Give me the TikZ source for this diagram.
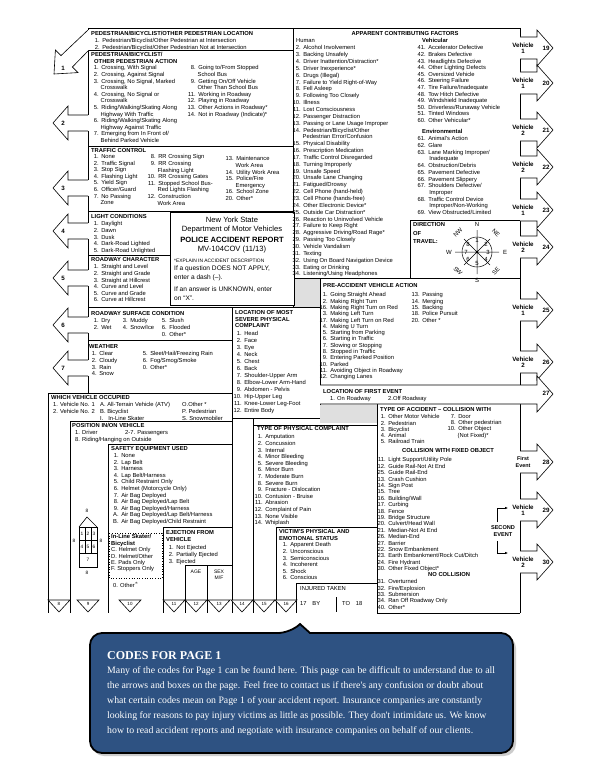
\documentclass[tikz,border=0pt]{standalone}
\usepackage{fontspec}
\setmainfont{Liberation Sans}
\newfontfamily\serf{Liberation Serif}
\usetikzlibrary{arrows.meta}
\definecolor{cblue}{HTML}{2E5282}
\newcommand\nn[1]{\makebox[7.5pt][r]{#1.}\,}
\newcommand\ct{\hspace*{9.5pt}}
\newcommand\fsz[1]{\fontsize{5.8}{#1}\selectfont}
\tikzset{
 t/.style={anchor=north west,inner sep=0pt,align=left,yshift=2.6pt,font=\fsz{6.6}},
 hb/.style={t,font=\fsz{6.4}\bfseries},
 ln/.style={line width=0.6pt},
 arr/.style={line width=0.6pt,fill=white},
 vl/.style={inner sep=0pt,font=\fontsize{6.2}{6.4}\selectfont\bfseries,align=center},
}
\newcommand\larr[2]{%
 \path[arr,draw] (88,#1-8) -- (68,#1-8) -- (68,#1-17) -- (53,#1) -- (68,#1+17) -- (68,#1+8) -- (88,#1+8);
 \node[vl] at (63,#1) {#2};}
\newcommand\rarr[4]{%
 \path[arr,draw] (520,#1-11) -- (537,#1-11) -- (537,#1-18) -- (553,#1) -- (537,#1+18) -- (537,#1+11) -- (520,#1+11);
 \node[vl] at (523,#1) {#2\\#3};
 \node[vl] at (546,#1) {#4};}
\newcommand\tri[2]{%
 \draw[ln,fill=white] (#1-11,600) -- (#1+11,600) -- (#1,612) -- cycle;
 \node[inner sep=0pt,font=\fontsize{4.5}{5}\selectfont] at (#1,604) {#2};}
\begin{document}
\begin{tikzpicture}[x=1pt,y=-1pt]
\useasboundingbox (0,0) rectangle (600,768);
\fill[white] (0,0) rectangle (600,768);
% ---------- frame lines
\draw[ln] (88,28) -- (520,28);
\draw[ln] (293,28) -- (293,307);
\draw[ln] (88,50) -- (293,50);
\draw[ln] (88,146) -- (293,146);
\draw[ln] (88,211) -- (293,211);
\draw[ln] (88,255) -- (170,255);
\draw[ln] (88,307) -- (320,307);
\draw[ln] (88,340) -- (232,340);
\draw[ln] (293,278) -- (520,278);
\draw[ln] (410,220) -- (520,220);
\draw[ln] (410,220) -- (410,278);
\draw[ln] (320,278) -- (320,423);
\draw[ln] (232,307) -- (232,613);
\draw[ln] (232,418) -- (320,418);
\fill[gray!25] (294,279) rectangle (320,307);
\fill[gray!25] (320.3,405.3) rectangle (377,423);
\draw[ln] (377,404) -- (377,613) -- (520,613);
\draw[ln] (253,418) -- (253,613);
\draw[ln] (253,425) -- (377,425);
\draw[ln] (276,527) -- (377,527);
\draw[ln] (276,527) -- (276,613);
\draw[ln] (296,583) -- (377,583);
\draw[ln] (296,583) -- (296,613);
\draw[ln] (336,597) -- (336,612);
\draw[ln] (48,393) -- (232,393);
\draw[ln] (48,393) -- (48,613);
\draw[ln] (70,421) -- (232,421);
\draw[ln] (70,421) -- (70,613);
\draw[ln] (108,444) -- (232,444);
\draw[ln] (108,444) -- (108,613);
\draw[ln] (163,527) -- (232,527);
\draw[ln] (163,527) -- (163,613);
\draw[ln] (185,565) -- (232,565);
\draw[ln] (185,565) -- (185,613);
\draw[ln] (207,565) -- (207,613);
% left edge segments
\draw[ln] (88,28) -- (88,30);
\draw[ln] (88,51) -- (88,115);
\draw[ln] (88,131) -- (88,180);
\draw[ln] (88,196) -- (88,223);
\draw[ln] (88,239) -- (88,270);
\draw[ln] (88,286) -- (88,317);
\draw[ln] (88,333) -- (88,360);
\draw[ln] (88,376) -- (88,393);
% right edge segments
\draw[ln] (520,28) -- (520,37);
\draw[ln] (520,59) -- (520,72);
\draw[ln] (520,94) -- (520,119);
\draw[ln] (520,141) -- (520,156);
\draw[ln] (520,178) -- (520,199);
\draw[ln] (520,221) -- (520,236);
\draw[ln] (520,258) -- (520,299);
\draw[ln] (520,321) -- (520,351);
\draw[ln] (520,373) -- (520,385);
\draw[ln] (520,404) -- (520,451);
\draw[ln] (520,473) -- (520,499);
\draw[ln] (520,521) -- (520,551);
\draw[ln] (520,573) -- (520,613);
% ---------- left arrows
\path[arr,draw] (88,30) -- (61,55.6) -- (55.4,50) -- (54,74) -- (78,72.6) -- (72.4,67) -- (88,51);
\node[vl] at (63,68) {1};
\larr{123}{2}\larr{188}{3}\larr{231}{4}\larr{278}{5}\larr{325}{6}\larr{368}{7}
% ---------- right arrows
\rarr{48}{Vehicle}{1}{19}
\rarr{83}{Vehicle}{1}{20}
\rarr{130}{Vehicle}{2}{21}
\rarr{167}{Vehicle}{2}{22}
\rarr{210}{Vehicle}{1}{23}
\rarr{247}{Vehicle}{2}{24}
\rarr{310}{Vehicle}{1}{25}
\rarr{362}{Vehicle}{2}{26}
\rarr{462}{\fontsize{5.4}{6}\selectfont First}{\fontsize{5.4}{6}\selectfont Event}{28}
\rarr{510}{Vehicle}{1}{29}
\rarr{562}{Vehicle}{2}{30}
\path[arr,draw] (320,385) -- (537,385) -- (537,376) -- (553,394) -- (537,412) -- (537,404) -- (320,404);
\node[vl] at (546,393) {27};
% ---------- NY box
\draw[line width=1pt,fill=white] (170,212) rectangle (294,305);
\node[inner sep=0pt,font=\fontsize{7.6}{8}\selectfont] at (232,220) {New York State};
\node[inner sep=0pt,font=\fontsize{7.6}{8}\selectfont] at (232,230) {Department of Motor Vehicles};
\node[inner sep=0pt,font=\fontsize{7.6}{8}\selectfont\bfseries] at (232,240) {POLICE ACCIDENT REPORT};
\node[inner sep=0pt,font=\fontsize{7.6}{8}\selectfont] at (232,250) {MV-104COV (11/13)};
\node[anchor=west,inner sep=0pt,font=\fontsize{4.9}{5}\selectfont] at (174,261) {*EXPLAIN IN ACCIDENT DESCRIPTION};
\node[anchor=north west,inner sep=0pt,align=left,font=\fontsize{6.6}{8.8}\selectfont] at (174,266) {If a question DOES NOT APPLY,\\enter a dash (--).\\[3pt]If an answer is UNKNOWN, enter\\on ``X''.};
% ---------- left column texts
\node[hb] at (91,34) {PEDESTRIAN/BICYCLIST/OTHER PEDESTRIAN LOCATION};
\node[t] at (92,41) {\nn1 Pedestrian/Bicyclist/Other Pedestrian at Intersection\\\nn2 Pedestrian/Bicyclist/Other Pedestrian Not at Intersection};
\node[hb] at (91,55) {PEDESTRIAN/BICYCLIST/\\\hspace*{3pt}OTHER PEDESTRIAN ACTION};
\node[t] at (91,68) {\nn1 Crossing, With Signal\\\nn2 Crossing, Against Signal\\\nn3 Crossing, No Signal, Marked\\\ct Crosswalk\\\nn4 Crossing, No Signal or\\\ct Crosswalk\\\nn5 Riding/Walking/Skating Along\\\ct Highway With Traffic\\\nn6 Riding/Walking/Skating Along\\\ct Highway Against Traffic\\\nn7 Emerging from In Front of/\\\ct Behind Parked Vehicle};
\node[t] at (188,68) {\nn8 Going to/From Stopped\\\ct School Bus\\\nn9 Getting On/Off Vehicle\\\ct Other Than School Bus\\\nn{11} Working in Roadway\\\nn{12} Playing in Roadway\\\nn{13} Other Actions in Roadway*\\\nn{14} Not in Roadway (Indicate)*};
\node[hb] at (91,151) {TRAFFIC CONTROL};
\node[t] at (91,157) {\nn1 None\\\nn2 Traffic Signal\\\nn3 Stop Sign\\\nn4 Flashing Light\\\nn5 Yield Sign\\\nn6 Officer/Guard\\\nn7 No Passing\\\ct Zone};
\node[t] at (148,157) {\nn8 RR Crossing Sign\\\nn9 RR Crossing\\\ct Flashing Light\\\nn{10} RR Crossing Gates\\\nn{11} Stopped School Bus-\\\ct Red Lights Flashing\\\nn{12} Construction\\\ct Work Area};
\node[t] at (226,159) {\nn{13} Maintenance\\\ct Work Area\\\nn{14} Utility Work Area\\\nn{15} Police/Fire\\\ct Emergency\\\nn{16} School Zone\\\nn{20} Other*};
\node[hb] at (91,217) {LIGHT CONDITIONS};
\node[t] at (91,224) {\nn1 Daylight\\\nn2 Dawn\\\nn3 Dusk\\\nn4 Dark-Road Lighted\\\nn5 Dark-Road Unlighted};
\node[hb] at (91,260) {ROADWAY CHARACTER};
\node[t] at (91,267) {\nn1 Straight and Level\\\nn2 Straight and Grade\\\nn3 Straight at Hillcrest\\\nn4 Curve and Level\\\nn5 Curve and Grade\\\nn6 Curve at Hillcrest};
\node[hb] at (91,314) {ROADWAY SURFACE CONDITION};
\node[t] at (91,321) {\nn1 Dry\\\nn2 Wet};
\node[t] at (120,321) {\nn3 Muddy\\\nn4 Snow/Ice};
\node[t] at (159,321) {\nn5 Slush\\\nn6 Flooded\\\nn0 Other*};
\node[hb] at (89,347) {WEATHER};
\node[t] at (89,354) {\nn1 Clear\\\nn2 Cloudy\\\nn3 Rain\\\nn4 Snow};
\node[t] at (140,354) {\nn5 Sleet/Hail/Freezing Rain\\\nn6 Fog/Smog/Smoke\\\nn0 Other*};
\node[hb] at (51,398) {WHICH VEHICLE OCCUPIED};
\node[t] at (53,405) {1. Vehicle No. 1\\2. Vehicle No. 2};
\node[t] at (100,405) {A. All-Terrain Vehicle (ATV)\\B. Bicyclist\\I.\ \ \ In-Line Skater};
\node[t] at (182,405) {O.Other *\\P. Pedestrian\\S. Snowmobiler};
\node[hb] at (72,426) {POSITION IN/ON VEHICLE};
\node[t] at (75,433) {1. Driver\\8. Riding/Hanging on Outside};
\node[t] at (125,433) {2-7. Passengers};
\node[hb] at (111,449) {SAFETY EQUIPMENT USED};
\node[t] at (111,456) {\nn1 None\\\nn2 Lap Belt\\\nn3 Harness\\\nn4 Lap Belt/Harness\\\nn5 Child Restraint Only\\\nn6 Helmet (Motorcycle Only)\\\nn7 Air Bag Deployed\\\nn8 Air Bag Deployed/Lap Belt\\\nn9 Air Bag Deployed/Harness\\\nn{A} Air Bag Deployed/Lap Belt/Harness\\\nn{B} Air Bag Deployed/Child Restraint};
% car diagram
\draw[ln] (79,527) -- (87,517) -- (97,527);
\draw[ln] (79,527) rectangle (97,567);
\draw[ln] (79,553) -- (97,553);
\draw[ln] (79,540) -- (97,540);
\draw[ln] (85,527) -- (85,553);
\draw[ln] (91,527) -- (91,553);
\begin{scope}[every node/.style={inner sep=0pt,font=\fontsize{4.8}{5}\selectfont}]
\node at (82,534) {1};\node at (88,534) {2};\node at (94,534) {3};
\node at (82,547) {4};\node at (88,547) {5};\node at (94,547) {6};
\node at (88,560) {7};
\node at (87,511) {8};\node at (74,541) {8};\node at (101,541) {8};\node at (87,573) {8};
\end{scope}
\draw[line width=0.6pt,dotted] (109,533) rectangle (162,578);
\node[t,font=\fsz{6.4}] at (111,537) {\textbf{In-Line Skater/}\\\textbf{Bicyclist}\\C. Helmet Only\\D. Helmet/Other\\E. Pads Only\\F. Stoppers Only};
\node[t] at (113,585) {0. Other$^{\ast}$};
\node[hb] at (166,533) {EJECTION FROM\\VEHICLE};
\node[t] at (166,548) {\nn1 Not Ejected\\\nn2 Partially Ejected\\\nn3 Ejected};
\node[inner sep=0pt,font=\fontsize{5}{5.5}\selectfont] at (196,572) {AGE};
\node[inner sep=0pt,font=\fontsize{5}{5.5}\selectfont,align=center] at (219,575) {SEX\\M/F};
% middle
\node[hb] at (235,313) {LOCATION OF MOST\\SEVERE PHYSICAL\\COMPLAINT};
\node[t,font=\fsz{7.0}] at (234,334) {\nn1 Head\\\nn2 Face\\\nn3 Eye\\\nn4 Neck\\\nn5 Chest\\\nn6 Back\\\nn7 Shoulder-Upper Arm\\\nn8 Elbow-Lower Arm-Hand\\\nn9 Abdomen - Pelvis\\\nn{10} Hip-Upper Leg\\\nn{11} Knee-Lower Leg-Foot\\\nn{12} Entire Body};
\node[hb] at (257,429) {TYPE OF PHYSICAL COMPLAINT};
\node[t] at (255,437) {\nn1 Amputation\\\nn2 Concussion\\\nn3 Internal\\\nn4 Minor Bleeding\\\nn5 Severe Bleeding\\\nn6 Minor Burn\\\nn7 Moderate Burn\\\nn8 Severe Burn\\\nn9 Fracture - Dislocation\\\nn{10} Contusion - Bruise\\\nn{11} Abrasion\\\nn{12} Complaint of Pain\\\nn{13} None Visible\\\nn{14} Whiplash};
\node[hb] at (279,532) {VICTIM'S PHYSICAL AND\\EMOTIONAL STATUS};
\node[t] at (280,545) {\nn1 Apparent Death\\\nn2 Unconscious\\\nn3 Semiconscious\\\nn4 Incoherent\\\nn5 Shock\\\nn6 Conscious};
\node[t] at (300,589) {INJURED TAKEN};
\node[t] at (300,604) {17\quad BY};
\node[t] at (342,604) {TO\quad 18};
% apparent factors
\node[inner sep=0pt,font=\fsz{6.4}\bfseries] at (405,34) {APPARENT CONTRIBUTING FACTORS};
\node[t] at (296,41) {Human};
\node[t,font=\fsz{6.85}] at (293,48) {\nn2 Alcohol Involvement\\\nn3 Backing Unsafely\\\nn4 Driver Inattention/Distraction*\\\nn5 Driver Inexperience*\\\nn6 Drugs (Illegal)\\\nn7 Failure to Yield Right-of-Way\\\nn8 Fell Asleep\\\nn9 Following Too Closely\\\nn{10} Illness\\\nn{11} Lost Consciousness\\\nn{12} Passenger Distraction\\\nn{13} Passing or Lane Usage Improper\\\nn{14} Pedestrian/Bicyclist/Other\\\ct Pedestrian Error/Confusion\\\nn{15} Physical Disability\\\nn{16} Prescription Medication\\\nn{17} Traffic Control Disregarded\\\nn{18} Turning Improperly\\\nn{19} Unsafe Speed\\\nn{20} Unsafe Lane Changing\\\nn{21} Fatigued/Drowsy\\\nn{22} Cell Phone (hand-held)\\\nn{23} Cell Phone (hands-free)\\\nn{24} Other Electronic Device*\\\nn{25} Outside Car Distraction*\\\nn{26} Reaction to Uninvolved Vehicle\\\nn{27} Failure to Keep Right\\\nn{28} Aggressive Driving/Road Rage*\\\nn{29} Passing Too Closely\\\nn{30} Vehicle Vandalism\\\nn{31} Texting\\\nn{32} Using On Board Navigation Device\\\nn{33} Eating or Drinking\\\nn{34} Listening/Using Headphones};
\node[hb] at (422,41) {Vehicular};
\node[t] at (418,48) {\nn{41} Accelerator Defective\\\nn{42} Brakes Defective\\\nn{43} Headlights Defective\\\nn{44} Other Lighting Defects\\\nn{45} Oversized Vehicle\\\nn{46} Steering Failure\\\nn{47} Tire Failure/Inadequate\\\nn{48} Tow Hitch Defective\\\nn{49} Windshield Inadequate\\\nn{50} Driverless/Runaway Vehicle\\\nn{51} Tinted Windows\\\nn{60} Other Vehicular*};
\node[hb] at (422,132) {Environmental};
\node[t,font=\fsz{6.7}] at (418,139) {\nn{61} Animal's Action\\\nn{62} Glare\\\nn{63} Lane Marking Improper/\\\ct\ Inadequate\\\nn{64} Obstruction/Debris\\\nn{65} Pavement Defective\\\nn{66} Pavement Slippery\\\nn{67} Shoulders Defective/\\\ct\ Improper\\\nn{68} Traffic Control Device\\\ct\ Improper/Non-Working\\\nn{69} View Obstructed/Limited};
% direction of travel
\node[hb,font=\fsz{8.5}\bfseries] at (413,225) {DIRECTION\\OF\\TRAVEL:};
\draw[line width=0.5pt] (477,252) circle (15);
\draw[line width=0.5pt] (477,230) -- (477,274) (455,252) -- (499,252) (464,239) -- (490,265) (490,239) -- (464,265);
\begin{scope}[every node/.style={inner sep=0pt,font=\fontsize{6}{6}\selectfont}]
\node at (477,224) {N};\node at (477,280) {S};\node at (449,252) {W};\node at (505,252) {E};
\node[rotate=45] at (458,233) {NW};\node[rotate=-45] at (496,233) {NE};
\node[rotate=-45] at (458,271) {SW};\node[rotate=45] at (496,271) {SE};
\node at (477,240) {1};\node at (486,244) {2};\node at (488,252) {3};\node at (486,259) {4};
\node at (477,263) {5};\node at (468,259) {6};\node at (466,252) {7};\node at (468,244) {8};
\end{scope}
% pre-accident
\node[hb] at (323,286) {PRE-ACCIDENT VEHICLE ACTION};
\node[t,font=\fsz{6.3}] at (320,295) {\nn1 Going Straight Ahead\\\nn2 Making Right Turn\\\nn{16} Making Right Turn on Red\\\nn3 Making Left Turn\\\nn{17} Making Left Turn on Red\\\nn4 Making U Turn\\\nn5 Starting from Parking\\\nn6 Starting in Traffic\\\nn7 Slowing or Stopping\\\nn8 Stopped in Traffic\\\nn9 Entering Parked Position\\\nn{10} Parked\\\nn{11} Avoiding Object in Roadway\\\nn{12} Changing Lanes};
\node[t,font=\fsz{6.3}] at (412,295) {\nn{13} Passing\\\nn{14} Merging\\\nn{15} Backing\\\nn{18} Police Pursuit\\\nn{20} Other *};
\node[hb] at (323,392) {LOCATION OF FIRST EVENT};
\node[t] at (330,399) {1. On Roadway};
\node[t] at (388,399) {2.Off Roadway};
% type of accident
\node[hb] at (380,410) {TYPE OF ACCIDENT -- COLLISION WITH};
\node[t,font=\fsz{6.2}] at (378,417) {\nn1 Other Motor Vehicle\\\nn2 Pedestrian\\\nn3 Bicyclist\\\nn4 Animal\\\nn5 Railroad Train};
\node[t,font=\fsz{6.2}] at (448,417) {\nn7 Door\\\nn8 Other pedestrian\\\nn{10} Other Object\\\ct (Not Fixed)*};
\node[inner sep=0pt,font=\fsz{6.4}\bfseries] at (448,450) {COLLISION WITH FIXED OBJECT};
\node[t,font=\fsz{6.4}] at (378,460) {\nn{11} Light Support/Utility Pole\\\nn{12} Guide Rail-Not At End\\\nn{25} Guide Rail-End\\\nn{13} Crash Cushion\\\nn{14} Sign Post\\\nn{15} Tree\\\nn{16} Building/Wall\\\nn{17} Curbing\\\nn{18} Fence\\\nn{19} Bridge Structure\\\nn{20} Culvert/Head Wall\\\nn{21} Median-Not At End\\\nn{26} Median-End\\\nn{27} Barrier\\\nn{22} Snow Embankment\\\nn{23} Earth Embankment/Rock Cut/Ditch\\\nn{24} Fire Hydrant\\\nn{30} Other Fixed Object*};
\node[hb] at (428,575) {NO COLLISION};
\node[t,font=\fsz{6.3}] at (378,582) {\nn{31} Overturned\\\nn{32} Fire/Explosion\\\nn{33} Submersion\\\nn{34} Ran Off Roadway Only\\\nn{40} Other*};
% second event
\node[vl,font=\fontsize{5.6}{7}\selectfont\bfseries] at (503,531) {SECOND\\EVENT};
\draw[line width=0.5pt,-{Latex[length=3pt,width=2.5pt]}] (497,522) -- (497,508) -- (508,508);
\draw[line width=0.5pt,-{Latex[length=3pt,width=2.5pt]}] (497,541) -- (497,553) -- (508,553);
% bottom triangles
\tri{59}{8}\tri{88}{9}\tri{130}{10}\tri{174}{11}\tri{196}{12}\tri{219}{13}\tri{242}{14}\tri{264}{15}\tri{286}{16}
% ---------- callout
\fill[gray!40] (92,636) [rounded corners=12pt] -- (92,756) -- (516,756) -- (516,636) -- cycle;
\draw[line width=1.8pt,fill=cblue,rounded corners=12pt] (90,693) |- (290,633) [sharp corners] -- (300,624) -- (310,633) [rounded corners=12pt] -| (513,693) |- (90,753) -- cycle;
\node[anchor=west,inner sep=0pt,text=white,font=\serf\fontsize{12}{12}\selectfont\bfseries] at (107,656) {CODES FOR PAGE 1};
\node[anchor=north west,inner sep=0pt,align=left,text=white,font=\serf\fontsize{9.8}{15}\selectfont] at (107,666) {Many of the codes for Page 1 can be found here. This page can be difficult to understand due to all\\the arrows and boxes on the page. Feel free to contact us if there's any confusion or doubt about\\what certain codes mean on Page 1 of your accident report. Insurance companies are constantly\\looking for reasons to pay injury victims as little as possible. They don't intimidate us. We know\\how to read accident reports and negotiate with insurance companies on behalf of our clients.};
\end{tikzpicture}
\end{document}
